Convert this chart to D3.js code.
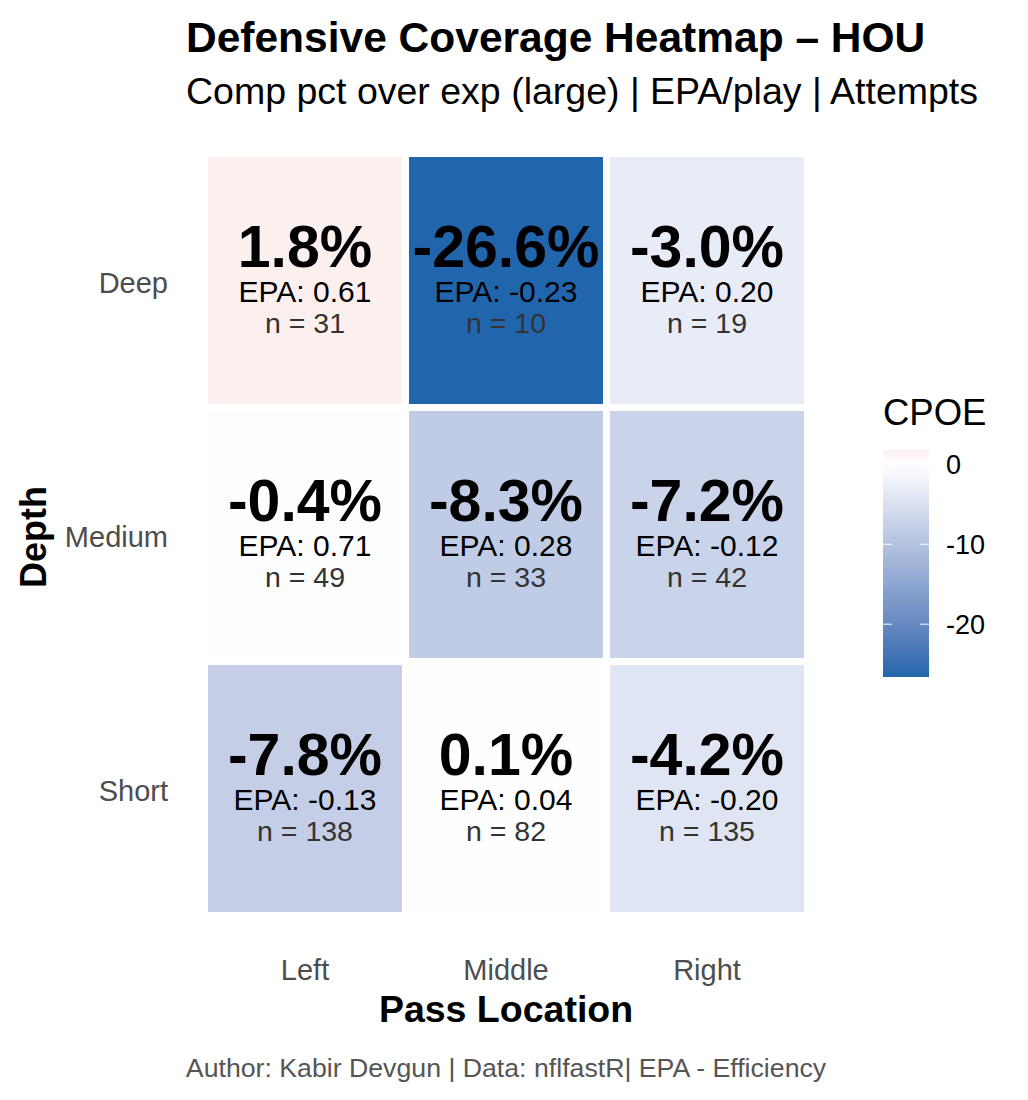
<!DOCTYPE html>
<html>
<head>
<meta charset="utf-8">
<script src="https://cdn.jsdelivr.net/npm/d3@7"></script>
<style>
  body { margin: 0; background: #fff; }
  text { font-family: "Liberation Sans", Arial, sans-serif; }
</style>
</head>
<body>
<div id="viz"></div>
<script>
// Pass location columns and depth rows
const locations = ["Left", "Middle", "Right"];
const depths = ["Deep", "Medium", "Short"];

// CPOE (%) per depth row, in location order
const cpoeDeep = [1.8, -26.6, -3.0];
const cpoeMedium = [-0.4, -8.3, -7.2];
const cpoeShort = [-7.8, 0.1, -4.2];

// EPA per play
const epaDeep = [0.61, -0.23, 0.20];
const epaMedium = [0.71, 0.28, -0.12];
const epaShort = [-0.13, 0.04, -0.20];

// Attempts
const nDeep = [31, 10, 19];
const nMedium = [49, 33, 42];
const nShort = [138, 82, 135];

const legendTicks = [0, -10, -20];

const width = 1028, height = 1100;
const cpoeRows = [cpoeDeep, cpoeMedium, cpoeShort];
const epaRows = [epaDeep, epaMedium, epaShort];
const nRows = [nDeep, nMedium, nShort];

// flatten into cells
const cells = [];
depths.forEach((d, i) => {
  locations.forEach((l, j) => {
    cells.push({ depth: d, loc: l, cpoe: cpoeRows[i][j], epa: epaRows[i][j], n: nRows[i][j] });
  });
});

const svg = d3.select("#viz").append("svg")
  .attr("width", width)
  .attr("height", height);

// panel
const x = d3.scaleBand().domain(locations).range([204.5, 807.5]);
const y = d3.scaleBand().domain(depths).range([153.5, 915.5]);

const allVals = cells.map(c => c.cpoe);
const maxAbs = d3.max(allVals, v => Math.abs(v));
const color = d3.scaleLinear()
  .domain([-maxAbs, 0, maxAbs])
  .range(["#2166AC", "#ffffff", "#B2182B"])
  .interpolate(d3.interpolateLab);

// plain hyphen minus like R's sprintf
const fmt1 = v => v.toFixed(1);
const fmt2 = v => v.toFixed(2);

const tiles = svg.append("g");
tiles.selectAll("rect")
  .data(cells)
  .join("rect")
  .attr("x", d => x(d.loc))
  .attr("y", d => y(d.depth))
  .attr("width", x.bandwidth())
  .attr("height", y.bandwidth())
  .attr("fill", d => color(d.cpoe))
  .attr("stroke", "#fff")
  .attr("stroke-width", 7);

const labels = svg.append("g");
const cx = d => x(d.loc) + x.bandwidth() / 2;
const cy = d => y(d.depth) + y.bandwidth() / 2;

labels.selectAll("text.big")
  .data(cells)
  .join("text")
  .attr("class", "big")
  .attr("x", cx)
  .attr("y", d => cy(d) - 14)
  .attr("text-anchor", "middle")
  .attr("font-size", 59)
  .attr("font-weight", "bold")
  .attr("fill", "#000")
  .text(d => fmt1(d.cpoe) + "%");

labels.selectAll("text.epa")
  .data(cells)
  .join("text")
  .attr("class", "epa")
  .attr("x", cx)
  .attr("y", d => cy(d) + 21)
  .attr("text-anchor", "middle")
  .attr("font-size", 30)
  .attr("fill", "#000")
  .text(d => "EPA: " + fmt2(d.epa));

labels.selectAll("text.n")
  .data(cells)
  .join("text")
  .attr("class", "n")
  .attr("x", cx)
  .attr("y", d => cy(d) + 52)
  .attr("text-anchor", "middle")
  .attr("font-size", 28.5)
  .attr("fill", "#333")
  .text(d => "n = " + d.n);

// axis tick labels
svg.append("g").selectAll("text")
  .data(locations)
  .join("text")
  .attr("x", d => x(d) + x.bandwidth() / 2)
  .attr("y", 980)
  .attr("text-anchor", "middle")
  .attr("font-size", 29)
  .attr("fill", "#4d4d4d")
  .text(d => d);

svg.append("g").selectAll("text")
  .data(depths)
  .join("text")
  .attr("x", 168)
  .attr("y", d => y(d) + y.bandwidth() / 2 + 12)
  .attr("text-anchor", "end")
  .attr("font-size", 29)
  .attr("fill", "#4d4d4d")
  .text(d => d);

// axis titles
svg.append("text")
  .attr("x", 506)
  .attr("y", 1022)
  .attr("text-anchor", "middle")
  .attr("font-size", 37.5)
  .attr("font-weight", "bold")
  .text("Pass Location");

svg.append("text")
  .attr("transform", "translate(46,537) rotate(-90)")
  .attr("text-anchor", "middle")
  .attr("font-size", 36)
  .attr("font-weight", "bold")
  .text("Depth");

// title, subtitle, caption
svg.append("text")
  .attr("x", 186)
  .attr("y", 52)
  .attr("font-size", 42.5)
  .attr("font-weight", "bold")
  .text("Defensive Coverage Heatmap \u2013 HOU");

svg.append("text")
  .attr("x", 186)
  .attr("y", 104)
  .attr("font-size", 37.5)
  .text("Comp pct over exp (large) | EPA/play | Attempts");

svg.append("text")
  .attr("x", 506)
  .attr("y", 1077)
  .attr("text-anchor", "middle")
  .attr("font-size", 26.7)
  .attr("fill", "#555")
  .text("Author: Kabir Devgun | Data: nflfastR| EPA - Efficiency");

// legend
const [vMin, vMax] = d3.extent(allVals);
const barX = 883, barW = 46;
const ly = d3.scaleLinear().domain([vMax, vMin]).range([450, 677]);

const defs = svg.append("defs");
const grad = defs.append("linearGradient")
  .attr("id", "cpoeGrad")
  .attr("x1", 0).attr("y1", 0).attr("x2", 0).attr("y2", 1);
d3.range(0, 1.0001, 0.05).forEach(t => {
  const v = vMax + (vMin - vMax) * t;
  grad.append("stop").attr("offset", t).attr("stop-color", color(v));
});

const legend = svg.append("g");
legend.append("text")
  .attr("x", barX)
  .attr("y", 425)
  .attr("font-size", 36.5)
  .text("CPOE");

legend.append("rect")
  .attr("x", barX)
  .attr("y", ly(vMax))
  .attr("width", barW)
  .attr("height", ly(vMin) - ly(vMax))
  .attr("fill", "url(#cpoeGrad)");

legendTicks.forEach(t => {
  legend.append("line")
    .attr("x1", barX).attr("x2", barX + 9)
    .attr("y1", ly(t)).attr("y2", ly(t))
    .attr("stroke", "#fff").attr("stroke-opacity", 0.8).attr("stroke-width", 1.2);
  legend.append("line")
    .attr("x1", barX + barW - 9).attr("x2", barX + barW)
    .attr("y1", ly(t)).attr("y2", ly(t))
    .attr("stroke", "#fff").attr("stroke-opacity", 0.8).attr("stroke-width", 1.2);
  legend.append("text")
    .attr("x", 946)
    .attr("y", ly(t) + 10)
    .attr("font-size", 27)
    .text(t);
});
</script>
</body>
</html>
